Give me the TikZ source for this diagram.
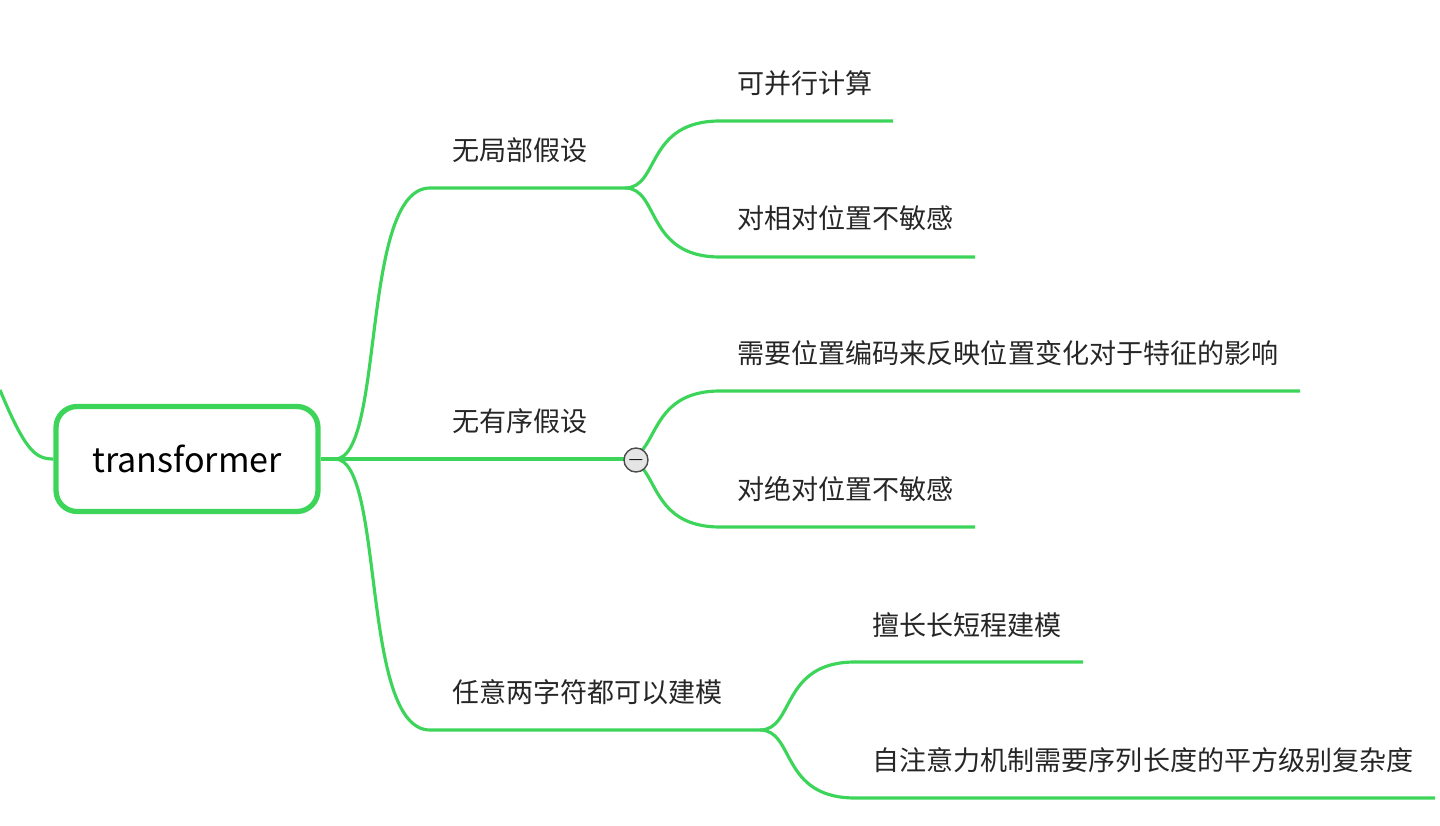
\documentclass[tikz,border=0pt]{standalone}
\usepackage{fontspec}
\setmainfont{Noto Sans CJK SC}
\usetikzlibrary{positioning}
\definecolor{BranchCol}{RGB}{60,213,90}
\tikzset{
  branch/.style={draw=BranchCol, line width=0.9pt},
  rootbox/.style={draw=BranchCol, line width=1.5pt, rounded corners=6pt, minimum width=2.62cm, minimum height=1.05cm, font=\fontsize{9.7}{11}\selectfont},
  label/.style={anchor=west, font=\fontsize{7.7}{9}\selectfont, text=black!85},
  foldmark/.style={circle, draw=black!70, fill=black!10, line width=0.4pt, inner sep=0pt, minimum size=0.24cm}
}
\begin{document}
\begin{tikzpicture}
  \useasboundingbox (0,0) rectangle (14.4,8.25);
  % root
  \node[rootbox] (root) at (1.87,3.66) {transformer};
  \coordinate (rootout) at (3.35,3.66);
  \coordinate (leftin) at (0,4.35);
  \draw[branch] (leftin) .. controls (0.25,3.75) and (0.35,3.66) .. (root.west);
  \draw[branch] (root.east) -- (rootout);
  % first level
  \coordinate (aS) at (4.3,6.37);  \coordinate (aE) at (6.25,6.37);
  \coordinate (bS) at (4.3,3.66);  \coordinate (bE) at (6.24,3.66);
  \coordinate (cS) at (4.3,0.95);  \coordinate (cE) at (7.6,0.95);
  \draw[branch] (rootout) .. controls (3.85,3.66) and (3.6,6.37) .. (aS) -- (aE);
  \draw[branch] (rootout) .. controls (3.8,3.66) and (3.9,3.66) .. (bS) -- (bE);
  \draw[branch] (rootout) .. controls (3.85,3.66) and (3.6,0.95) .. (cS) -- (cE);
  \node[label] (a) at (4.4,6.75) {无局部假设};
  \node[label] (b) at (4.4,4.04) {无有序假设};
  \node[label] (c) at (4.4,1.33) {任意两字符都可以建模};
  % second level
  \coordinate (a1S) at (7.2,7.04);  \coordinate (a1E) at (8.93,7.04);
  \coordinate (a2S) at (7.2,5.68);  \coordinate (a2E) at (9.75,5.68);
  \draw[branch] (aE) .. controls (6.6,6.37) and (6.45,7.04) .. (a1S) -- (a1E);
  \draw[branch] (aE) .. controls (6.6,6.37) and (6.45,5.68) .. (a2S) -- (a2E);
  \node[label] (a1) at (7.25,7.42) {可并行计算};
  \node[label] (a2) at (7.25,6.07) {对相对位置不敏感};
  \coordinate (b1S) at (7.2,4.34);  \coordinate (b1E) at (13.0,4.34);
  \coordinate (b2S) at (7.2,2.98);  \coordinate (b2E) at (9.75,2.98);
  \draw[branch] (bE) .. controls (6.6,3.66) and (6.45,4.34) .. (b1S) -- (b1E);
  \draw[branch] (bE) .. controls (6.6,3.66) and (6.45,2.98) .. (b2S) -- (b2E);
  \node[label] (b1) at (7.25,4.72) {需要位置编码来反映位置变化对于特征的影响};
  \node[label] (b2) at (7.25,3.36) {对绝对位置不敏感};
  \node[foldmark] (fold) at (6.36,3.65) {\fontsize{5}{5}\selectfont$-$};
  \coordinate (c1S) at (8.55,1.63);  \coordinate (c1E) at (10.83,1.63);
  \coordinate (c2S) at (8.55,0.27);  \coordinate (c2E) at (14.35,0.27);
  \draw[branch] (cE) .. controls (7.95,0.95) and (7.8,1.63) .. (c1S) -- (c1E);
  \draw[branch] (cE) .. controls (7.95,0.95) and (7.8,0.27) .. (c2S) -- (c2E);
  \node[label] (c1) at (8.6,2.0) {擅长长短程建模};
  \node[label] (c2) at (8.6,0.65) {自注意力机制需要序列长度的平方级别复杂度};
\end{tikzpicture}
\end{document}
